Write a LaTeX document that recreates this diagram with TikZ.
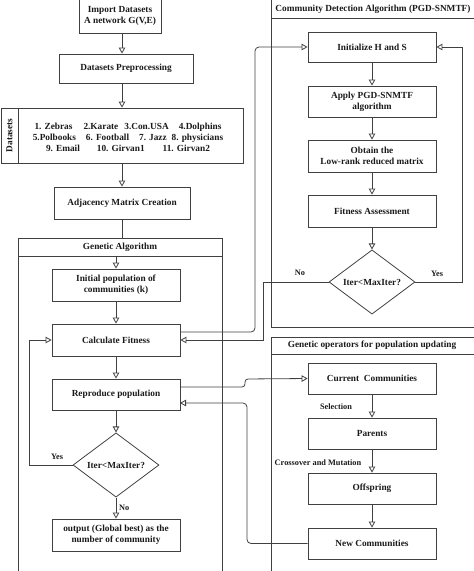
\documentclass[tikz,border=0pt]{standalone}
\usepackage{fontspec}
\setmainfont{Liberation Serif}
\usetikzlibrary{arrows.meta,shapes.geometric}
\definecolor{ln}{HTML}{404040}
\definecolor{tx}{HTML}{1A1A1A}
\tikzset{
  every node/.style={text=tx,font=\fontsize{9.3}{11}\selectfont\bfseries},
  box/.style={draw=ln,line width=0.8pt,rectangle,minimum width=128pt,minimum height=31pt,align=center,inner sep=1pt},
  dia/.style={draw=ln,line width=0.8pt,diamond,minimum width=86pt,minimum height=64pt,inner sep=0pt},
  frame/.style={draw=ln,line width=0.8pt},
  arr/.style={draw=ln,line width=0.8pt,-{Triangle[open,width=6.5pt,length=6pt]}},
  ln/.style={draw=ln,line width=0.8pt},
  lbl/.style={font=\fontsize{8.3}{10}\selectfont\bfseries,inner sep=0pt},
}
\begin{document}
\begin{tikzpicture}[x=1pt,y=-1pt]
\useasboundingbox (0,0) rectangle (474,571);
\clip (0,0) rectangle (474,571);
\coordinate (ax) at (122,0);
% top column
\node[box,minimum width=82pt,minimum height=34pt] (import) at (120,16) {Import Datasets\\A network G(V,E)};
\node[box,minimum width=134pt,minimum height=29pt] (prep) at (126,68.5) {Datasets Preprocessing};
\node[draw=ln,line width=0.8pt,rectangle,minimum width=242pt,minimum height=55pt,inner sep=0pt] (ds) at (122,135.5) {};
\draw[ln] (18,108) -- (18,163);
\node[rotate=90] (dslabel) at (9.5,135.5) {Datasets};
\node[align=center,inner sep=0pt,font=\fontsize{9.3}{11}\selectfont\bfseries] (dslist) at (128,137) {1. Zebras\hspace{11pt}2.Karate\hspace{6pt}3.Con.USA\hspace{10pt}4.Dolphins\\5.Polbooks\hspace{10pt}6. Football\hspace{10pt}7. Jazz\hspace{5pt}8. physicians\\9. Email\hspace{17pt}10. Girvan1\hspace{18pt}11. Girvan2};
\node[box,minimum width=136pt,minimum height=32pt] (adj) at (122,203) {Adjacency Matrix Creation};
\draw[arr] (import.south -| ax) -- (prep.north -| ax);
\draw[arr] (prep.south -| ax) -- (ds.north -| ax);
\draw[arr] (ds.south -| ax) -- (adj.north -| ax);
% GA container
\draw[frame] (18,575) -- (18,238) -- (222,238) -- (222,575);
\draw[frame] (18,256) -- (222,256);
\node (gatitle) at (120,247) {Genetic Algorithm};
\coordinate (gatop) at (122,238);
\draw[ln] (adj.south -| ax) -- (gatop);
\node[box,minimum height=32pt] (init) at (116,285) {Initial population of\\communities (k)};
\node[box,minimum height=32pt] (calc) at (116,340) {Calculate Fitness};
\node[box] (repro) at (116,394.5) {Reproduce population};
\node[dia] (gdia) at (116,465) {Iter<MaxIter?};
\node[box,minimum height=32pt] (out) at (116,535) {output (Global best) as the\\number of community};
\coordinate (gastrip) at (116,256);
\draw[arr] (gastrip) -- (init.north);
\draw[arr] (init) -- (calc);
\draw[arr] (calc) -- (repro);
\draw[arr] (repro) -- (gdia);
\draw[arr] (gdia) -- (out);
\node[lbl,anchor=west] (gno) at (119,508) {No};
\coordinate (yesx) at (29,465);
\draw[arr] (gdia.west) -- (yesx) |- (calc.west);
\node[lbl] (gyes) at (57,457) {Yes};
% CDA container
\draw[frame] (271,-2) rectangle (478,327);
\draw[frame] (271,18) -- (478,18);
\node (cdatitle) at (373,9) {Community Detection Algorithm (PGD-SNMTF)};
\node[box,minimum height=30pt] (ihs) at (372,47) {Initialize H and S};
\node[box] (apply) at (372,101.5) {Apply PGD-SNMTF\\algorithm};
\node[box,minimum height=32pt] (obtain) at (372,156) {Obtain the\\Low-rank reduced matrix};
\node[box,minimum height=32pt] (fit) at (372,211) {Fitness Assessment};
\node[dia,minimum height=63pt] (cdia) at (372,282) {Iter<MaxIter?};
\draw[arr] (ihs) -- (apply);
\draw[arr] (apply) -- (obtain);
\draw[arr] (obtain) -- (fit);
\draw[arr] (fit) -- (cdia);
\coordinate (cyesx) at (462,282);
\draw[arr] (cdia.east) -- (cyesx) |- (ihs.east);
\node[lbl] (cyes) at (437,274) {Yes};
\coordinate (cnox) at (263,282);
\draw[arr] (cdia.west) -- (cnox) |- (calc.east);
\node[lbl] (cno) at (300,273) {No};
% calc -> initialize
\coordinate (c1) at (180,332);
\coordinate (c2) at (255,332);
\coordinate (c3) at (255,47);
\draw[arr,rounded corners=4pt] (c1) -- (c2) -- (c3) -- (ihs.west);
% GOPU container
\draw[frame] (271,575) -- (271,337) -- (478,337);
\draw[frame] (271,354) -- (478,354);
\node (gotitle) at (372,345.5) {Genetic operators for population updating};
\node[box] (cur) at (372,378.5) {Current\ \ Communities};
\node[box] (par) at (372,433.5) {Parents};
\node[box] (off) at (372,488.5) {Offspring};
\node[box] (new) at (372,543.5) {New Communities};
\draw[arr] (cur) -- (par);
\draw[arr] (par) -- (off);
\draw[arr] (off) -- (new);
\node[lbl] (sel) at (336,407) {Selection};
\node[lbl] (cm) at (318,463) {Crossover and Mutation};
% repro -> current
\coordinate (r1) at (180,387);
\coordinate (r2) at (245,387);
\coordinate (r3) at (245,379);
\draw[arr,rounded corners=3pt] (r1) -- (r2) -- (r3) -- (cur.west);
% new -> repro
\coordinate (n1) at (247,543.5);
\coordinate (n2) at (247,403);
\coordinate (n3) at (180,403);
\draw[arr,rounded corners=4pt] (new.west) -- (n1) -- (n2) -- (n3);
\end{tikzpicture}
\end{document}
